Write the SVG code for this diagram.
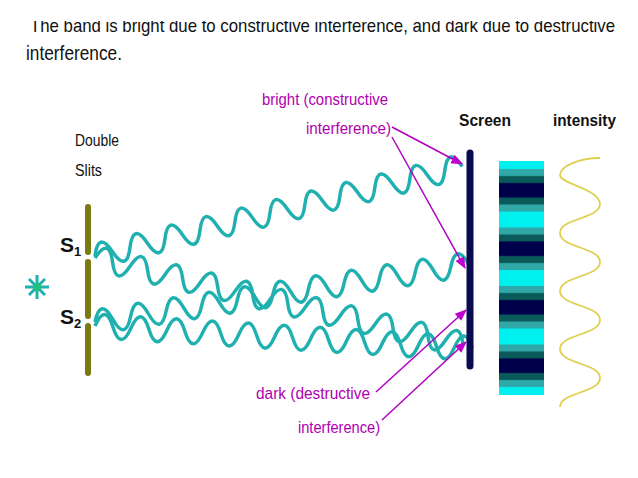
<svg xmlns="http://www.w3.org/2000/svg" width="638" height="478" viewBox="0 0 638 478">
<style>
.t{font-family:"Liberation Sans",Arial,sans-serif;font-size:17px;fill:#111}
.m{font-family:"Liberation Sans",Arial,sans-serif;font-size:17px;fill:#b000b0}
.w{fill:none;stroke:#20b0b0;stroke-width:3.5}
.a{stroke:#b000c0;stroke-width:1.5;fill:none;marker-end:url(#ah)}
</style>
<defs>
<marker id="ah" viewBox="0 0 10 10" refX="9" refY="5" markerWidth="8" markerHeight="8" orient="auto"><path d="M0,1 L10,5 L0,9 Z" fill="#c000d0"/></marker>
<path id="wave" d="M0,0 q9,-24 18,0 t18,0 t18,0 t18,0 t18,0 t18,0 t18,0 t18,0 t18,0 t18,0 t18,0 t18,0 t18,0 t18,0 t18,0 t18,0 t18,0 t18,0 t18,0 t18,0 t18,0"/>
<clipPath id="cl"><rect x="0" y="21" width="638" height="60"/></clipPath>
</defs>
<rect width="638" height="478" fill="#fff"/>
<g id="caption">
<text x="30" y="32" clip-path="url(#cl)" class="t" style="font-size:19px" textLength="585" lengthAdjust="spacingAndGlyphs">The band is bright due to constructive interference, and dark due to destructive</text>
<text x="26" y="60" class="t" style="font-size:21px" textLength="96" lengthAdjust="spacingAndGlyphs">interference.</text>
</g>
<g id="connectors">
<use href="#wave" class="w" transform="translate(95,256) rotate(-13.7)"/>
<use href="#wave" class="w" transform="translate(95,258) rotate(13.2)"/>
<use href="#wave" class="w" transform="translate(95,322) rotate(-8.8)"/>
<use href="#wave" class="w" transform="translate(95,326) rotate(3.4)"/>
<path class="a" d="M392,127 L462,164"/>
<path class="a" d="M392,137 L465,268"/>
<path class="a" d="M376,392 L466,310"/>
<path class="a" d="M382,420 L466,342"/>
</g>
<g id="source"><g stroke="#20b0b0" stroke-width="3"><path d="M25,287 H49 M37,275 V299 M29,279 L45,295 M45,279 L29,295"/></g><circle cx="37" cy="287" r="4" fill="#20c080"/></g>
<g id="slits">
<path d="M88,207 V252 M88,262 V316 M88,326 V373" stroke="#7a7a12" stroke-width="6" stroke-linecap="round"/>
<text x="75" y="146" class="t" textLength="44" lengthAdjust="spacingAndGlyphs">Double</text>
<text x="75" y="176" class="t" textLength="27" lengthAdjust="spacingAndGlyphs">Slits</text>
<text x="60" y="252" class="t" style="font-weight:bold;font-size:21px">S<tspan font-size="13" dy="4">1</tspan></text>
<text x="60" y="324" class="t" style="font-weight:bold;font-size:21px">S<tspan font-size="13" dy="4">2</tspan></text>
</g>
<g id="screen">
<path d="M470,153 V366" stroke="#0a0a50" stroke-width="7" stroke-linecap="round"/>
<text x="459" y="126" class="t" style="font-weight:bold" textLength="52" lengthAdjust="spacingAndGlyphs">Screen</text>
</g>
<g id="fringes">
<defs><pattern id="fr" x="0" y="161" width="50" height="58.5" patternUnits="userSpaceOnUse">
<rect width="50" height="58.5" fill="#00f0f0"/>
<rect y="8" width="50" height="42.5" fill="#30a8a8"/>
<rect y="15" width="50" height="28.5" fill="#0a5a5a"/>
<rect y="22" width="50" height="14.5" fill="#00004a"/>
</pattern></defs>
<rect x="499" y="161" width="45" height="234" fill="url(#fr)"/>
</g>
<g id="intensity">
<path d="M600,158 c-20,0 -40,8 -40,17 s40,14 40,29 s-40,14 -40,29 s40,14 40,29 s-40,14 -40,29 s40,14 40,29 s-40,14 -40,29 s40,14 40,29 s-40,14 -40,29 " fill="none" stroke="#e0d050" stroke-width="1.8"/>
<text x="553" y="126" class="t" style="font-weight:bold" textLength="63" lengthAdjust="spacingAndGlyphs">intensity</text>
</g>
<g id="labels">
<text x="262" y="105" class="m" textLength="126" lengthAdjust="spacingAndGlyphs">bright  (constructive</text>
<text x="306" y="134" class="m" textLength="85" lengthAdjust="spacingAndGlyphs">interference)</text>
<text x="256" y="399" class="m" textLength="114" lengthAdjust="spacingAndGlyphs">dark (destructive</text>
<text x="298" y="433" class="m" textLength="82" lengthAdjust="spacingAndGlyphs">interference)</text>
</g>
</svg>
